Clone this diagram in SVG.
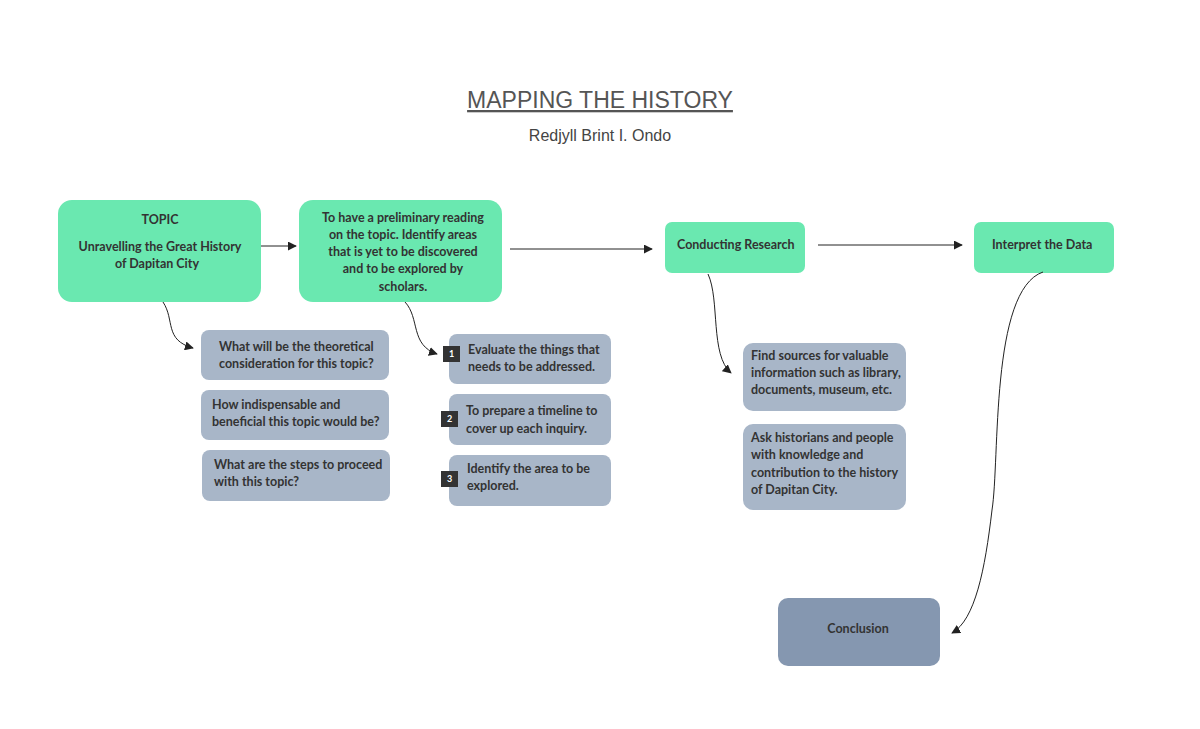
<svg xmlns="http://www.w3.org/2000/svg" width="1200" height="729" viewBox="0 0 1200 729">
<defs>
<marker id="a" viewBox="0 0 10 10" refX="9" refY="5" markerWidth="9" markerHeight="9" orient="auto" markerUnits="userSpaceOnUse"><path d="M0,0L10,5L0,10z" fill="#222"/></marker>
<style>
.g{fill:#6ae8b0}.b{fill:#a8b6c8}.c{fill:#8597b0}
text{font-family:Lato,"Open Sans",sans-serif;font-weight:bold;font-size:12.5px;fill:#333}
.m{text-anchor:middle}
.n{fill:#333}.nt{fill:#fff;font-size:9px;text-anchor:middle}
.l{fill:none;stroke:#222;stroke-width:1;marker-end:url(#a)}
</style>
</defs>
<rect width="1200" height="729" fill="#fff"/>
<text x="600" y="108" text-anchor="middle" style="font-family:'Liberation Sans',sans-serif;font-weight:normal;font-size:23px;fill:#555;text-decoration:underline">MAPPING THE HISTORY </text>
<text x="600" y="141" text-anchor="middle" style="font-family:'Liberation Sans',sans-serif;font-weight:normal;font-size:16px;fill:#444">Redjyll Brint I. Ondo</text>
<g id="topic"><rect class="g" x="58" y="200" width="203" height="102" rx="14"/><text class="m" x="160" y="224">TOPIC</text><text class="m" x="160" y="251">Unravelling the Great History</text><text class="m" x="157" y="268">of Dapitan City</text></g>
<g id="prelim"><rect class="g" x="299" y="200" width="203" height="102" rx="14"/><text class="m" x="403" y="222">To have a preliminary reading</text><text class="m" x="403" y="239">on the topic. Identify areas</text><text class="m" x="403" y="256">that is yet to be discovered</text><text class="m" x="403" y="273">and to be explored by</text><text class="m" x="403" y="291">scholars.</text></g>
<g id="research"><rect class="g" x="665" y="222" width="140" height="51" rx="7"/><text x="677" y="249">Conducting Research</text></g>
<g id="interpret"><rect class="g" x="974" y="222" width="140" height="51" rx="7"/><text x="992" y="249">Interpret the Data</text></g>
<g id="q1"><rect class="b" x="201" y="330" width="188" height="50" rx="8"/><text x="219" y="351">What will be the theoretical</text><text x="219" y="368">consideration for this topic?</text></g>
<g id="q2"><rect class="b" x="201" y="390" width="188" height="50" rx="8"/><text x="212" y="409">How indispensable and</text><text x="212" y="426">beneficial this topic would be?</text></g>
<g id="q3"><rect class="b" x="202" y="450" width="188" height="51" rx="8"/><text x="214" y="469">What are the steps to proceed</text><text x="214" y="486">with this topic?</text></g>
<g id="s1"><rect class="b" x="449" y="334" width="162" height="50" rx="8"/><rect class="n" x="443" y="346" width="17" height="16"/><text class="nt" x="451.5" y="357">1</text><text x="468" y="354">Evaluate the things that</text><text x="468" y="371">needs to be addressed.</text></g>
<g id="s2"><rect class="b" x="449" y="394" width="162" height="51" rx="8"/><rect class="n" x="441" y="411" width="17" height="16"/><text class="nt" x="449.5" y="422">2</text><text x="466" y="415">To prepare a timeline to</text><text x="466" y="433">cover up each inquiry.</text></g>
<g id="s3"><rect class="b" x="449" y="455" width="162" height="51" rx="8"/><rect class="n" x="441" y="471" width="17" height="16"/><text class="nt" x="449.5" y="482">3</text><text x="467" y="473">Identify the area to be</text><text x="467" y="490">explored.</text></g>
<g id="f1"><rect class="b" x="743" y="343" width="163" height="68" rx="10"/><text x="751" y="360">Find sources for valuable</text><text x="751" y="377">information such as library,</text><text x="751" y="394">documents, museum, etc.</text></g>
<g id="f2"><rect class="b" x="743" y="424" width="163" height="86" rx="10"/><text x="751" y="442">Ask historians and people</text><text x="751" y="459">with knowledge and</text><text x="751" y="477">contribution to the history</text><text x="751" y="494">of Dapitan City.</text></g>
<g id="conclusion"><rect class="c" x="778" y="598" width="162" height="68" rx="10"/><text class="m" x="858" y="633">Conclusion</text></g>
<g id="connectors">
<path class="l" d="M261,246H296"/>
<path class="l" d="M510,249H652"/>
<path class="l" d="M818,245H962"/>
<path class="l" d="M163,302C175,320 164,340 193,348"/>
<path class="l" d="M405,302C420,318 410,345 437,354"/>
<path class="l" d="M708,274C720,300 710,355 731,373"/>
<path class="l" d="M1043,272C990,290 1000,460 992,510C985,570 975,620 952,633"/>
</g>
</svg>
